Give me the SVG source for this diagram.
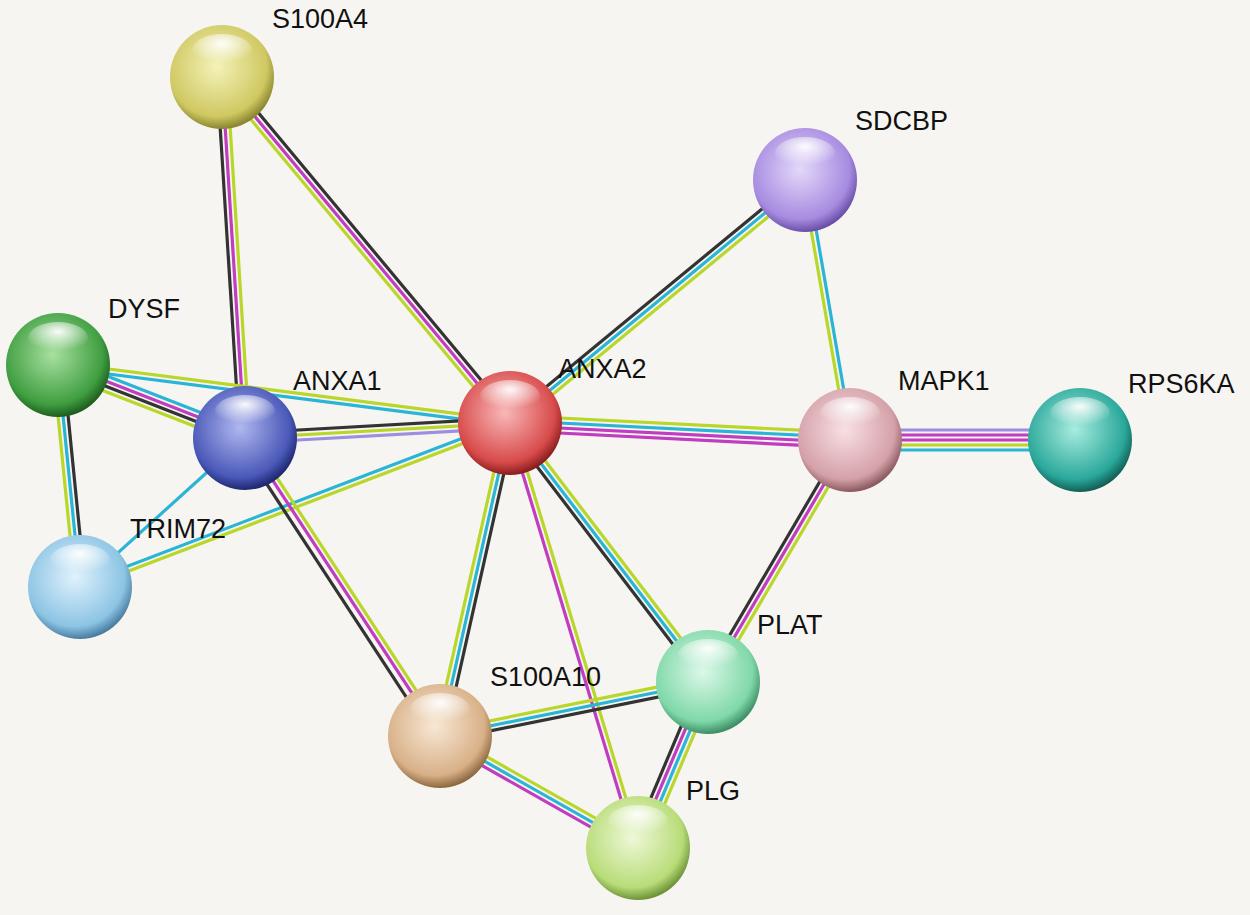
<svg xmlns="http://www.w3.org/2000/svg" width="1250" height="915" viewBox="0 0 1250 915">
<style>
line{stroke-width:3.2;fill:none}
.y{stroke:#b9d62a}.m{stroke:#c03cc0}.k{stroke:#333}.c{stroke:#2ab5d6}.l{stroke:#9b8fe0}
text{font-family:"Liberation Sans",Arial,sans-serif;font-size:27px;fill:#111}
.hl{fill:url(#hl)}
</style>
<defs>
<radialGradient id="hl" cx="50%" cy="30%" r="60%"><stop offset="0" stop-color="#fff" stop-opacity="0.95"/><stop offset="1" stop-color="#fff" stop-opacity="0"/></radialGradient>
<radialGradient id="g1" cx="45%" cy="40%" r="60%"><stop offset="0" stop-color="#f4f2b8"/><stop offset="0.8" stop-color="#cfc862"/><stop offset="1" stop-color="#8a8530"/></radialGradient>
<radialGradient id="g2" cx="45%" cy="40%" r="60%"><stop offset="0" stop-color="#e4d8fa"/><stop offset="0.8" stop-color="#a68be0"/><stop offset="1" stop-color="#6a4fa8"/></radialGradient>
<radialGradient id="g3" cx="45%" cy="40%" r="60%"><stop offset="0" stop-color="#a8e0a0"/><stop offset="0.8" stop-color="#3f9e40"/><stop offset="1" stop-color="#1e5e20"/></radialGradient>
<radialGradient id="g4" cx="45%" cy="40%" r="60%"><stop offset="0" stop-color="#b0b8f0"/><stop offset="0.8" stop-color="#4a58b8"/><stop offset="1" stop-color="#1e2870"/></radialGradient>
<radialGradient id="g5" cx="45%" cy="40%" r="60%"><stop offset="0" stop-color="#f8b8b8"/><stop offset="0.8" stop-color="#d84a4a"/><stop offset="1" stop-color="#8a1e1e"/></radialGradient>
<radialGradient id="g6" cx="45%" cy="40%" r="60%"><stop offset="0" stop-color="#f8e0e4"/><stop offset="0.8" stop-color="#d4a0a8"/><stop offset="1" stop-color="#8a5a60"/></radialGradient>
<radialGradient id="g7" cx="45%" cy="40%" r="60%"><stop offset="0" stop-color="#a8ecdf"/><stop offset="0.8" stop-color="#2aa89a"/><stop offset="1" stop-color="#136058"/></radialGradient>
<radialGradient id="g8" cx="45%" cy="40%" r="60%"><stop offset="0" stop-color="#e0f2fc"/><stop offset="0.8" stop-color="#8cc4e4"/><stop offset="1" stop-color="#4a7ea0"/></radialGradient>
<radialGradient id="g9" cx="45%" cy="40%" r="60%"><stop offset="0" stop-color="#dcf8e8"/><stop offset="0.8" stop-color="#7fd8a8"/><stop offset="1" stop-color="#3e8e66"/></radialGradient>
<radialGradient id="g10" cx="45%" cy="40%" r="60%"><stop offset="0" stop-color="#f8e8d4"/><stop offset="0.8" stop-color="#d8b088"/><stop offset="1" stop-color="#8e6840"/></radialGradient>
<radialGradient id="g11" cx="45%" cy="40%" r="60%"><stop offset="0" stop-color="#eef8d8"/><stop offset="0.8" stop-color="#b8dc78"/><stop offset="1" stop-color="#6e9438"/></radialGradient>
</defs>
<rect width="1250" height="915" fill="#f7f5f1"/>
<g id="edges">
<g transform="translate(222,77) rotate(86.4)"><line class="y" x1="0" y1="-5" x2="362" y2="-5"/><line class="m" x1="0" y1="0" x2="362" y2="0"/><line class="k" x1="0" y1="5" x2="362" y2="5"/></g>
<g transform="translate(222,77) rotate(50.2)"><line class="k" x1="0" y1="-5" x2="450" y2="-5"/><line class="m" x1="0" y1="0" x2="450" y2="0"/><line class="y" x1="0" y1="5" x2="450" y2="5"/></g>
<g transform="translate(805,180) rotate(140.5)"><line class="y" x1="0" y1="-5" x2="382" y2="-5"/><line class="c" x1="0" y1="0" x2="382" y2="0"/><line class="k" x1="0" y1="5" x2="382" y2="5"/></g>
<g transform="translate(805,180) rotate(80.2)"><line class="c" x1="0" y1="-2.5" x2="264" y2="-2.5"/><line class="y" x1="0" y1="2.5" x2="264" y2="2.5"/></g>
<g transform="translate(58,365) rotate(21.3)"><line class="c" x1="0" y1="-7.5" x2="201" y2="-7.5"/><line class="m" x1="0" y1="-2.5" x2="201" y2="-2.5"/><line class="k" x1="0" y1="2.5" x2="201" y2="2.5"/><line class="y" x1="0" y1="7.5" x2="201" y2="7.5"/></g>
<g transform="translate(58,365) rotate(7.3)"><line class="y" x1="0" y1="-2.5" x2="456" y2="-2.5"/><line class="c" x1="0" y1="2.5" x2="456" y2="2.5"/></g>
<g transform="translate(58,365) rotate(84.3)"><line class="k" x1="0" y1="-5" x2="223" y2="-5"/><line class="c" x1="0" y1="0" x2="223" y2="0"/><line class="y" x1="0" y1="5" x2="223" y2="5"/></g>
<g transform="translate(245,438) rotate(137.9)"><line class="c" x1="0" y1="0" x2="222" y2="0"/></g>
<g transform="translate(245,438) rotate(-3.2)"><line class="k" x1="0" y1="-5" x2="265" y2="-5"/><line class="y" x1="0" y1="0" x2="265" y2="0"/><line class="l" x1="0" y1="5" x2="265" y2="5"/></g>
<g transform="translate(80,587) rotate(-20.9)"><line class="c" x1="0" y1="-2.5" x2="460" y2="-2.5"/><line class="y" x1="0" y1="2.5" x2="460" y2="2.5"/></g>
<g transform="translate(510,423) rotate(2.9)"><line class="y" x1="0" y1="-7.5" x2="340" y2="-7.5"/><line class="c" x1="0" y1="-2.5" x2="340" y2="-2.5"/><line class="m" x1="0" y1="2.5" x2="340" y2="2.5"/><line class="m" x1="0" y1="7.5" x2="340" y2="7.5"/></g>
<g transform="translate(850,440)"><line class="l" x1="0" y1="-10" x2="230" y2="-10"/><line class="m" x1="0" y1="-5" x2="230" y2="-5"/><line class="m" x1="0" y1="0" x2="230" y2="0"/><line class="y" x1="0" y1="5" x2="230" y2="5"/><line class="c" x1="0" y1="10" x2="230" y2="10"/></g>
<g transform="translate(510,423) rotate(102.6)"><line class="k" x1="0" y1="-5" x2="321" y2="-5"/><line class="c" x1="0" y1="0" x2="321" y2="0"/><line class="y" x1="0" y1="5" x2="321" y2="5"/></g>
<g transform="translate(510,423) rotate(52.6)"><line class="y" x1="0" y1="-5" x2="326" y2="-5"/><line class="c" x1="0" y1="0" x2="326" y2="0"/><line class="k" x1="0" y1="5" x2="326" y2="5"/></g>
<g transform="translate(510,423) rotate(73.2)"><line class="y" x1="0" y1="-2.5" x2="444" y2="-2.5"/><line class="m" x1="0" y1="2.5" x2="444" y2="2.5"/></g>
<g transform="translate(245,438) rotate(56.8)"><line class="y" x1="0" y1="-5" x2="356" y2="-5"/><line class="m" x1="0" y1="0" x2="356" y2="0"/><line class="k" x1="0" y1="7" x2="356" y2="7"/></g>
<g transform="translate(850,440) rotate(120.4)"><line class="y" x1="0" y1="-5" x2="281" y2="-5"/><line class="m" x1="0" y1="0" x2="281" y2="0"/><line class="k" x1="0" y1="5" x2="281" y2="5"/></g>
<g transform="translate(440,736) rotate(-11.4)"><line class="y" x1="0" y1="-5" x2="273" y2="-5"/><line class="c" x1="0" y1="0" x2="273" y2="0"/><line class="k" x1="0" y1="5" x2="273" y2="5"/></g>
<g transform="translate(440,736) rotate(29.5)"><line class="y" x1="0" y1="-5" x2="227" y2="-5"/><line class="c" x1="0" y1="0" x2="227" y2="0"/><line class="m" x1="0" y1="5" x2="227" y2="5"/></g>
<g transform="translate(708,682) rotate(112.9)"><line class="y" x1="0" y1="-7.5" x2="180" y2="-7.5"/><line class="c" x1="0" y1="-2.5" x2="180" y2="-2.5"/><line class="m" x1="0" y1="2.5" x2="180" y2="2.5"/><line class="k" x1="0" y1="7.5" x2="180" y2="7.5"/></g>
</g>
<g id="S100A4"><circle cx="222" cy="77" r="52" fill="url(#g1)"/><ellipse class="hl" cx="222" cy="50" rx="30" ry="16"/><text x="272" y="28">S100A4</text></g>
<g id="SDCBP"><circle cx="805" cy="180" r="52" fill="url(#g2)"/><ellipse class="hl" cx="805" cy="153" rx="30" ry="16"/><text x="855" y="130">SDCBP</text></g>
<g id="DYSF"><circle cx="58" cy="365" r="52" fill="url(#g3)"/><ellipse class="hl" cx="58" cy="338" rx="30" ry="16"/><text x="108" y="318">DYSF</text></g>
<g id="ANXA1"><circle cx="245" cy="438" r="52" fill="url(#g4)"/><ellipse class="hl" cx="245" cy="411" rx="30" ry="16"/><text x="293" y="390">ANXA1</text></g>
<g id="ANXA2"><circle cx="510" cy="423" r="52" fill="url(#g5)"/><ellipse class="hl" cx="510" cy="396" rx="30" ry="16"/><text x="558" y="378">ANXA2</text></g>
<g id="MAPK1"><circle cx="850" cy="440" r="52" fill="url(#g6)"/><ellipse class="hl" cx="850" cy="413" rx="30" ry="16"/><text x="898" y="390">MAPK1</text></g>
<g id="RPS6KA"><circle cx="1080" cy="440" r="52" fill="url(#g7)"/><ellipse class="hl" cx="1080" cy="413" rx="30" ry="16"/><text x="1128" y="393">RPS6KA</text></g>
<g id="TRIM72"><circle cx="80" cy="587" r="52" fill="url(#g8)"/><ellipse class="hl" cx="80" cy="560" rx="30" ry="16"/><text x="130" y="538">TRIM72</text></g>
<g id="PLAT"><circle cx="708" cy="682" r="52" fill="url(#g9)"/><ellipse class="hl" cx="708" cy="655" rx="30" ry="16"/><text x="757" y="634">PLAT</text></g>
<g id="S100A10"><circle cx="440" cy="736" r="52" fill="url(#g10)"/><ellipse class="hl" cx="440" cy="709" rx="30" ry="16"/><text x="490" y="686">S100A10</text></g>
<g id="PLG"><circle cx="638" cy="848" r="52" fill="url(#g11)"/><ellipse class="hl" cx="638" cy="821" rx="30" ry="16"/><text x="686" y="800">PLG</text></g>
</svg>
